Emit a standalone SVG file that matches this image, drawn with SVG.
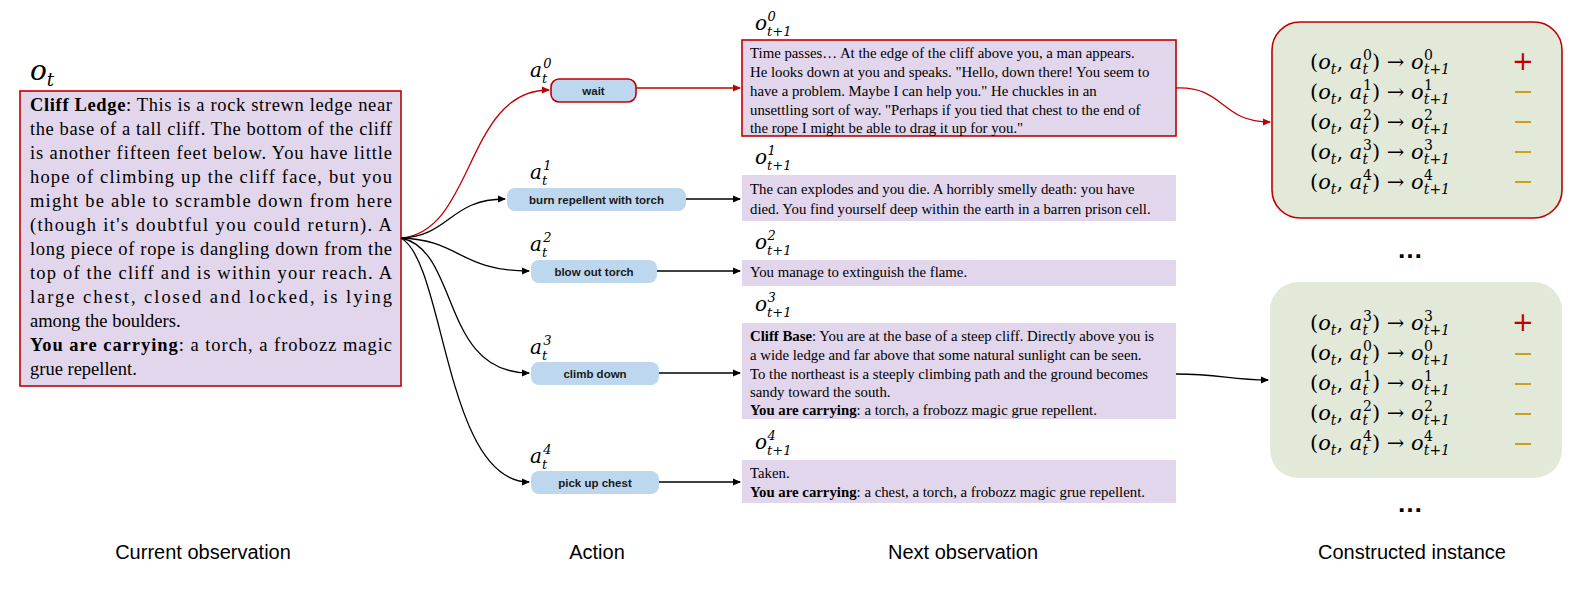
<svg xmlns="http://www.w3.org/2000/svg" width="1581" height="589" viewBox="0 0 1581 589">
<defs>
<marker id="ab" markerWidth="8" markerHeight="8" refX="7" refY="4" orient="auto" markerUnits="userSpaceOnUse"><path d="M0,0.5 L8,4 L0,7.5 Z" fill="#000"/></marker>
<marker id="ar" markerWidth="8" markerHeight="8" refX="7" refY="4" orient="auto" markerUnits="userSpaceOnUse"><path d="M0,0.5 L8,4 L0,7.5 Z" fill="#c00000"/></marker>
</defs>
<style>
.obs{fill:#e2d6ec}
.red{stroke:#c00000;stroke-width:1.6}
.t{font-family:"Liberation Serif",serif;font-size:18.5px;fill:#000}
.s{font-family:"Liberation Serif",serif;font-size:14.8px;fill:#000}
.pill{fill:#bdd7ee}
.pt{font-family:"Liberation Sans",sans-serif;font-size:11.5px;font-weight:bold;fill:#1a1a1a}
.m{font-family:"DejaVu Serif",serif;font-style:italic;fill:#000}
.m2{font-family:"DejaVu Serif",serif;font-size:21px;fill:#000}
.cap{font-family:"Liberation Sans",sans-serif;font-size:20px;fill:#000}
.cb{fill:none;stroke:#000;stroke-width:1.3}
.cr{fill:none;stroke:#c00000;stroke-width:1.3}
.plus{fill:#c00000;font-family:"DejaVu Sans",sans-serif;font-size:26px}
.minus{stroke:#c9a020;stroke-width:2}
.sb{font-size:14px}
</style>

<g id="obs-current">
<text class="m" x="30" y="80" font-size="28">o<tspan font-size="18" dy="6">t</tspan></text>
<rect class="obs red" x="20" y="91" width="381" height="295"/>
<g class="t">
<text x="30" y="111" textLength="362" lengthAdjust="spacing"><tspan font-weight="bold">Cliff Ledge</tspan>: This is a rock strewn ledge near</text>
<text x="30" y="135" textLength="362" lengthAdjust="spacing">the base of a tall cliff. The bottom of the cliff</text>
<text x="30" y="159" textLength="362" lengthAdjust="spacing">is another fifteen feet below. You have little</text>
<text x="30" y="183" textLength="362" lengthAdjust="spacing">hope of climbing up the cliff face, but you</text>
<text x="30" y="207" textLength="362" lengthAdjust="spacing">might be able to scramble down from here</text>
<text x="30" y="231" textLength="362" lengthAdjust="spacing">(though it's doubtful you could return). A</text>
<text x="30" y="255" textLength="362" lengthAdjust="spacing">long piece of rope is dangling down from the</text>
<text x="30" y="279" textLength="362" lengthAdjust="spacing">top of the cliff and is within your reach. A</text>
<text x="30" y="303" textLength="362" lengthAdjust="spacing">large chest, closed and locked, is lying</text>
<text x="30" y="327">among the boulders.</text>
<text x="30" y="351" textLength="362" lengthAdjust="spacing"><tspan font-weight="bold">You are carrying</tspan>: a torch, a frobozz magic</text>
<text x="30" y="375">grue repellent.</text>
</g>
</g>

<g id="act0"><text class="m" x="530" y="77" font-size="20">a<tspan font-size="13" dy="6">t</tspan><tspan font-size="13" dx="-4" dy="-15">0</tspan></text>
<rect class="pill red" x="551" y="79" width="85" height="23" rx="8"/><text class="pt" x="593.5" y="95" text-anchor="middle">wait</text></g>
<g id="act1"><text class="m" x="530" y="179" font-size="20">a<tspan font-size="13" dy="6">t</tspan><tspan font-size="13" dx="-4" dy="-15">1</tspan></text>
<rect class="pill" x="507" y="188" width="179" height="23" rx="8"/><text class="pt" x="596.5" y="204" text-anchor="middle">burn repellent with torch</text></g>
<g id="act2"><text class="m" x="530" y="251" font-size="20">a<tspan font-size="13" dy="6">t</tspan><tspan font-size="13" dx="-4" dy="-15">2</tspan></text>
<rect class="pill" x="531" y="260" width="126" height="23" rx="8"/><text class="pt" x="594" y="276" text-anchor="middle">blow out torch</text></g>
<g id="act3"><text class="m" x="530" y="354" font-size="20">a<tspan font-size="13" dy="6">t</tspan><tspan font-size="13" dx="-4" dy="-15">3</tspan></text>
<rect class="pill" x="531" y="362" width="128" height="23" rx="8"/><text class="pt" x="595" y="378" text-anchor="middle">climb down</text></g>
<g id="act4"><text class="m" x="530" y="463" font-size="20">a<tspan font-size="13" dy="6">t</tspan><tspan font-size="13" dx="-4" dy="-15">4</tspan></text>
<rect class="pill" x="531" y="471" width="128" height="23" rx="8"/><text class="pt" x="595" y="487" text-anchor="middle">pick up chest</text></g>

<g id="next0"><text class="m" x="755" y="30" font-size="20">o<tspan font-size="13" dy="6">t+1</tspan><tspan font-size="13" dx="-24" dy="-15">0</tspan></text>
<rect class="obs red" x="742" y="40" width="434" height="96"/>
<g class="s">
<text x="750" y="58">Time passes… At the edge of the cliff above you, a man appears.</text>
<text x="750" y="77">He looks down at you and speaks. "Hello, down there! You seem to</text>
<text x="750" y="96">have a problem. Maybe I can help you." He chuckles in an</text>
<text x="750" y="115">unsettling sort of way. "Perhaps if you tied that chest to the end of</text>
<text x="750" y="133">the rope I might be able to drag it up for you."</text></g></g>

<g id="next1"><text class="m" x="755" y="164" font-size="20">o<tspan font-size="13" dy="6">t+1</tspan><tspan font-size="13" dx="-24" dy="-15">1</tspan></text>
<rect class="obs" x="742" y="175" width="434" height="46"/>
<g class="s"><text x="750" y="194">The can explodes and you die. A horribly smelly death: you have</text>
<text x="750" y="214">died. You find yourself deep within the earth in a barren prison cell.</text></g></g>

<g id="next2"><text class="m" x="755" y="249" font-size="20">o<tspan font-size="13" dy="6">t+1</tspan><tspan font-size="13" dx="-24" dy="-15">2</tspan></text>
<rect class="obs" x="742" y="260" width="434" height="26"/>
<text class="s" x="750" y="277">You manage to extinguish the flame.</text></g>

<g id="next3"><text class="m" x="755" y="311" font-size="20">o<tspan font-size="13" dy="6">t+1</tspan><tspan font-size="13" dx="-24" dy="-15">3</tspan></text>
<rect class="obs" x="742" y="323" width="434" height="96"/>
<g class="s"><text x="750" y="341"><tspan font-weight="bold">Cliff Base</tspan>: You are at the base of a steep cliff. Directly above you is</text>
<text x="750" y="360">a wide ledge and far above that some natural sunlight can be seen.</text>
<text x="750" y="379">To the northeast is a steeply climbing path and the ground becomes</text>
<text x="750" y="397">sandy toward the south.</text>
<text x="750" y="415"><tspan font-weight="bold">You are carrying</tspan>: a torch, a frobozz magic grue repellent.</text></g></g>

<g id="next4"><text class="m" x="755" y="449" font-size="20">o<tspan font-size="13" dy="6">t+1</tspan><tspan font-size="13" dx="-24" dy="-15">4</tspan></text>
<rect class="obs" x="742" y="460" width="434" height="43"/>
<g class="s"><text x="750" y="478">Taken.</text>
<text x="750" y="497"><tspan font-weight="bold">You are carrying</tspan>: a chest, a torch, a frobozz magic grue repellent.</text></g></g>

<g id="inst1">
<rect x="1272" y="22" width="290" height="196" rx="28" fill="#e3e9d9" class="red"/>
<g class="m2">
<text x="1310" y="69">(<tspan class="m">o</tspan><tspan class="m sb" dy="5">t</tspan><tspan dy="-5">, </tspan><tspan class="m">a</tspan><tspan class="m sb" dy="5">t</tspan><tspan class="sb" dx="-5" dy="-14">0</tspan><tspan dy="9">) → </tspan><tspan class="m">o</tspan><tspan class="m sb" dy="5">t+1</tspan><tspan class="sb" dx="-26" dy="-14">0</tspan></text>
<text x="1310" y="99">(<tspan class="m">o</tspan><tspan class="m sb" dy="5">t</tspan><tspan dy="-5">, </tspan><tspan class="m">a</tspan><tspan class="m sb" dy="5">t</tspan><tspan class="sb" dx="-5" dy="-14">1</tspan><tspan dy="9">) → </tspan><tspan class="m">o</tspan><tspan class="m sb" dy="5">t+1</tspan><tspan class="sb" dx="-26" dy="-14">1</tspan></text>
<text x="1310" y="129">(<tspan class="m">o</tspan><tspan class="m sb" dy="5">t</tspan><tspan dy="-5">, </tspan><tspan class="m">a</tspan><tspan class="m sb" dy="5">t</tspan><tspan class="sb" dx="-5" dy="-14">2</tspan><tspan dy="9">) → </tspan><tspan class="m">o</tspan><tspan class="m sb" dy="5">t+1</tspan><tspan class="sb" dx="-26" dy="-14">2</tspan></text>
<text x="1310" y="159">(<tspan class="m">o</tspan><tspan class="m sb" dy="5">t</tspan><tspan dy="-5">, </tspan><tspan class="m">a</tspan><tspan class="m sb" dy="5">t</tspan><tspan class="sb" dx="-5" dy="-14">3</tspan><tspan dy="9">) → </tspan><tspan class="m">o</tspan><tspan class="m sb" dy="5">t+1</tspan><tspan class="sb" dx="-26" dy="-14">3</tspan></text>
<text x="1310" y="189">(<tspan class="m">o</tspan><tspan class="m sb" dy="5">t</tspan><tspan dy="-5">, </tspan><tspan class="m">a</tspan><tspan class="m sb" dy="5">t</tspan><tspan class="sb" dx="-5" dy="-14">4</tspan><tspan dy="9">) → </tspan><tspan class="m">o</tspan><tspan class="m sb" dy="5">t+1</tspan><tspan class="sb" dx="-26" dy="-14">4</tspan></text>
</g>
<text class="plus" x="1523" y="70" text-anchor="middle">+</text>
<path class="minus" d="M1515,92H1531M1515,122H1531M1515,152H1531M1515,182H1531"/>
</g>
<text id="dots1" x="1410" y="258" font-family="Liberation Sans,sans-serif" font-size="26" font-weight="bold" text-anchor="middle">…</text>

<g id="inst2">
<rect x="1270" y="282" width="292" height="196" rx="28" fill="#e3e9d9"/>
<g class="m2">
<text x="1310" y="330">(<tspan class="m">o</tspan><tspan class="m sb" dy="5">t</tspan><tspan dy="-5">, </tspan><tspan class="m">a</tspan><tspan class="m sb" dy="5">t</tspan><tspan class="sb" dx="-5" dy="-14">3</tspan><tspan dy="9">) → </tspan><tspan class="m">o</tspan><tspan class="m sb" dy="5">t+1</tspan><tspan class="sb" dx="-26" dy="-14">3</tspan></text>
<text x="1310" y="360">(<tspan class="m">o</tspan><tspan class="m sb" dy="5">t</tspan><tspan dy="-5">, </tspan><tspan class="m">a</tspan><tspan class="m sb" dy="5">t</tspan><tspan class="sb" dx="-5" dy="-14">0</tspan><tspan dy="9">) → </tspan><tspan class="m">o</tspan><tspan class="m sb" dy="5">t+1</tspan><tspan class="sb" dx="-26" dy="-14">0</tspan></text>
<text x="1310" y="390">(<tspan class="m">o</tspan><tspan class="m sb" dy="5">t</tspan><tspan dy="-5">, </tspan><tspan class="m">a</tspan><tspan class="m sb" dy="5">t</tspan><tspan class="sb" dx="-5" dy="-14">1</tspan><tspan dy="9">) → </tspan><tspan class="m">o</tspan><tspan class="m sb" dy="5">t+1</tspan><tspan class="sb" dx="-26" dy="-14">1</tspan></text>
<text x="1310" y="420">(<tspan class="m">o</tspan><tspan class="m sb" dy="5">t</tspan><tspan dy="-5">, </tspan><tspan class="m">a</tspan><tspan class="m sb" dy="5">t</tspan><tspan class="sb" dx="-5" dy="-14">2</tspan><tspan dy="9">) → </tspan><tspan class="m">o</tspan><tspan class="m sb" dy="5">t+1</tspan><tspan class="sb" dx="-26" dy="-14">2</tspan></text>
<text x="1310" y="450">(<tspan class="m">o</tspan><tspan class="m sb" dy="5">t</tspan><tspan dy="-5">, </tspan><tspan class="m">a</tspan><tspan class="m sb" dy="5">t</tspan><tspan class="sb" dx="-5" dy="-14">4</tspan><tspan dy="9">) → </tspan><tspan class="m">o</tspan><tspan class="m sb" dy="5">t+1</tspan><tspan class="sb" dx="-26" dy="-14">4</tspan></text>
</g>
<text class="plus" x="1523" y="331" text-anchor="middle">+</text>
<path class="minus" d="M1515,354H1531M1515,384H1531M1515,414H1531M1515,444H1531"/>
</g>
<text id="dots2" x="1410" y="512" font-family="Liberation Sans,sans-serif" font-size="26" font-weight="bold" text-anchor="middle">…</text>

<g id="connectors">
<path class="cr" d="M401,238 C475,232 465,90 549,90" marker-end="url(#ar)"/>
<path class="cb" d="M401,238 C450,236 450,199 505,199" marker-end="url(#ab)"/>
<path class="cb" d="M401,238 C460,240 460,271 529,271" marker-end="url(#ab)"/>
<path class="cb" d="M401,238 C460,250 440,373 529,373" marker-end="url(#ab)"/>
<path class="cb" d="M401,238 C445,262 445,482 529,482" marker-end="url(#ab)"/>
<path class="cr" d="M636,88 H740" marker-end="url(#ar)"/>
<path class="cb" d="M686,199 H740" marker-end="url(#ab)"/>
<path class="cb" d="M657,271 H740" marker-end="url(#ab)"/>
<path class="cb" d="M659,373 H740" marker-end="url(#ab)"/>
<path class="cb" d="M659,482 H740" marker-end="url(#ab)"/>
<path class="cr" d="M1176,88 C1225,86 1220,122 1270,122" marker-end="url(#ar)"/>
<path class="cb" d="M1176,374 C1220,374 1230,380 1268,380" marker-end="url(#ab)"/>
</g>

<g id="captions">
<text class="cap" x="203" y="559" text-anchor="middle">Current observation</text>
<text class="cap" x="597" y="559" text-anchor="middle">Action</text>
<text class="cap" x="963" y="559" text-anchor="middle">Next observation</text>
<text class="cap" x="1412" y="559" text-anchor="middle">Constructed instance</text>
</g>
</svg>
